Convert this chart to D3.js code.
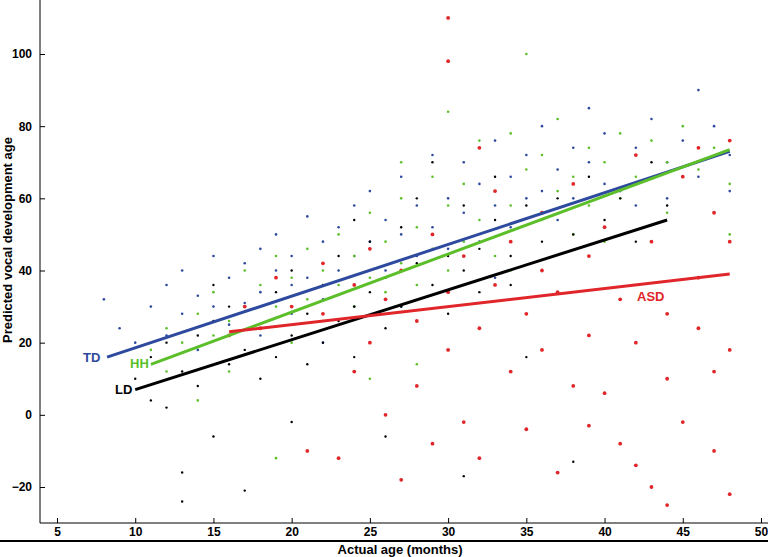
<!DOCTYPE html>
<html><head><meta charset="utf-8">
<script src="https://cdn.jsdelivr.net/npm/d3@7"></script>
<style>body{margin:0;background:#fff}text{font-family:"Liberation Sans",Arial,sans-serif}</style>
</head><body><svg id="c" width="768" height="557"></svg>
<script>
const xTicks = [5,10,15,20,25,30,35,40,45,50]
const yTicks = [-20,0,20,40,60,80,100]

const td = [[8,32],[9,24],[10,20],[11,30],[12,36],[12,22],[13,40],[13,28],[14,33],[14,18],[15,44],[15,30],[16,38],[16,25],[17,42],[17,31],[18,46],[18,34],[18,22],[19,40],[19,50],[20,36],[20,44],[20,28],[21,55],[21,38],[22,48],[22,32],[23,52],[23,40],[24,58],[24,44],[24,30],[25,62],[25,48],[26,54],[26,40],[27,66],[27,50],[28,58],[28,44],[29,72],[29,52],[30,60],[30,46],[31,70],[31,56],[32,64],[32,48],[33,76],[33,58],[34,66],[34,52],[35,72],[35,60],[36,80],[36,62],[37,68],[37,54],[38,74],[38,60],[39,70],[40,78],[40,64],[41,62],[42,74],[42,58],[43,82],[44,70],[44,60],[45,76],[46,66],[47,80],[48,62],[48,72],[46,90],[39,85],[22,20],[27,30],[33,38]]
const hh = [[11,18],[12,12],[12,24],[13,20],[14,28],[14,4],[15,22],[15,34],[16,26],[16,12],[17,30],[17,40],[18,24],[18,36],[19,44],[19,30],[20,20],[20,38],[21,46],[21,32],[22,40],[22,26],[23,50],[23,36],[24,44],[24,30],[25,56],[25,38],[26,48],[26,34],[27,60],[27,42],[28,52],[28,36],[29,66],[29,46],[30,58],[30,40],[30,84],[31,64],[31,48],[32,76],[32,54],[33,62],[33,44],[34,78],[34,58],[35,68],[35,100],[36,72],[36,54],[37,62],[37,82],[38,66],[38,50],[39,74],[39,58],[40,70],[41,78],[41,60],[42,66],[43,76],[44,70],[44,56],[45,80],[46,68],[47,74],[48,64],[48,50],[25,10],[28,14],[19,-12],[34,40],[27,70],[40,48]]
const ld = [[10,10],[11,4],[11,16],[12,2],[12,20],[13,-16],[13,12],[13,-24],[14,22],[14,8],[15,26],[15,-6],[16,14],[16,30],[17,18],[17,-21],[18,24],[18,10],[19,34],[19,16],[20,22],[20,40],[21,28],[21,14],[22,36],[22,20],[23,44],[23,26],[24,30],[24,16],[25,48],[25,34],[26,38],[26,24],[27,52],[27,30],[28,42],[28,60],[29,36],[29,50],[30,44],[30,28],[31,58],[31,40],[32,46],[32,34],[33,54],[33,66],[34,44],[34,36],[35,58],[36,48],[37,60],[38,50],[39,66],[40,54],[41,60],[42,48],[43,70],[44,58],[20,-2],[26,-6],[31,-17],[35,16],[38,-13],[15,36],[24,54],[29,70]]
const asd = [[16,22],[17,30],[18,24],[19,38],[20,30],[21,-10],[22,42],[22,28],[23,-12],[24,36],[24,12],[25,46],[25,20],[26,32],[26,0],[27,-18],[27,40],[28,26],[28,8],[29,50],[29,-8],[30,110],[30,98],[30,34],[30,18],[31,-2],[31,44],[32,-12],[32,24],[33,62],[33,36],[34,12],[34,48],[35,28],[35,-4],[36,40],[36,56],[36,18],[37,-16],[37,34],[38,64],[38,8],[39,44],[39,22],[40,6],[40,52],[41,-8],[41,32],[42,72],[42,20],[42,-14],[43,48],[43,-20],[44,28],[44,10],[45,66],[45,-2],[46,38],[46,24],[46,74],[47,-10],[47,12],[47,56],[48,18],[48,48],[48,-22],[48,76],[44,-25],[32,74],[39,-3]]

// fitted lines: [x0,y0,x1,y1]
const fits = [
  {name:"TD", color:"#2e4a9e", line:[8.2,16,48,73], label:[83,362]},
  {name:"HH", color:"#5cbf2a", line:[11,14,48,73.5], label:[130,368]},
  {name:"LD", color:"#000", line:[10,7,44,54], label:[115,394]},
  {name:"ASD", color:"#e0262a", line:[16,23,48,39], label:[637,301]}
]

let svg = d3.select("#c")
let x = d3.scaleLinear().domain([5,50]).range([57,761])
let y = d3.scaleLinear().domain([-20,100]).range([487,54])

svg.append("line").attr("x1",40).attr("x2",40).attr("y1",0).attr("y2",523).attr("stroke","#000")
svg.append("line").attr("x1",40).attr("x2",768).attr("y1",523).attr("y2",523).attr("stroke","#000")
svg.append("rect").attr("x",0).attr("y",540).attr("width",768).attr("height",2).attr("fill","#000")

svg.append("g").attr("transform","translate(40,0)")
  .call(d3.axisLeft(y).tickValues(yTicks).tickSize(-5).tickPadding(8))
  .call(g=>g.select(".domain").remove())
  .selectAll("text").attr("font-size",12).attr("font-weight","bold")
svg.append("g").attr("transform","translate(0,523)")
  .call(d3.axisBottom(x).tickValues(xTicks).tickSize(-5).tickPadding(4))
  .call(g=>g.select(".domain").remove())
  .selectAll("text").attr("font-size",12).attr("font-weight","bold")

function dots(data, color, r) {
  svg.append("g").selectAll("circle").data(data).join("circle")
    .attr("cx",d=>x(d[0])).attr("cy",d=>y(d[1])).attr("r",r).attr("fill",color)
}
dots(td,"#2e4a9e",1.3)
dots(hh,"#5cbf2a",1.3)
dots(ld,"#000",1.2)
dots(asd,"#e0262a",1.9)

fits.forEach(f=>{
  svg.append("line").attr("x1",x(f.line[0])).attr("y1",y(f.line[1]))
    .attr("x2",x(f.line[2])).attr("y2",y(f.line[3]))
    .attr("stroke",f.color).attr("stroke-width",3)
  svg.append("text").attr("x",f.label[0]).attr("y",f.label[1])
    .attr("fill",f.color).attr("font-size",13).attr("font-weight","bold").text(f.name)
})

svg.append("text").attr("x",400).attr("y",554).attr("text-anchor","middle")
  .attr("font-size",13).attr("font-weight","bold").text("Actual age (months)")
svg.append("text").attr("transform","translate(12,240) rotate(-90)").attr("text-anchor","middle")
  .attr("font-size",13).attr("font-weight","bold").text("Predicted vocal development age")
</script></body></html>
